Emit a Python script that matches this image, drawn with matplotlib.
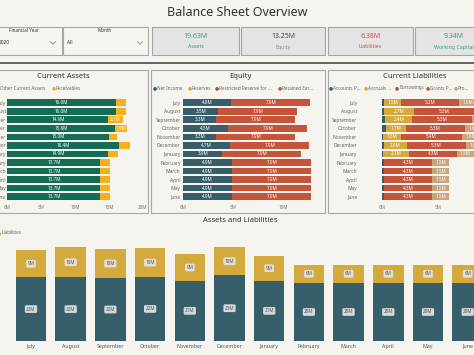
import numpy as np
import matplotlib.pyplot as plt
from matplotlib.patches import Rectangle
from matplotlib.lines import Line2D

plt.rcParams['font.family'] = ['Noto Sans', 'DejaVu Sans']

W, H = 474, 355
BG = '#f6f4ef'

months = ['July', 'August', 'September', 'October', 'November', 'December',
          'January', 'February', 'March', 'April', 'May', 'June']

# Current assets (M)
other_current_assets = [16.0, 16.0, 14.9, 15.8, 15.0, 16.4, 14.9, 13.7, 13.7, 13.7, 13.7, 13.7]
receivables = [1.5, 1.5, 2.1, 1.9, 1.2, 1.7, 1.4, 1.4, 1.4, 1.4, 1.4, 1.4]

# Equity (M)
net_income = [4.8, 3.5, 3.3, 4.5, 3.3, 4.7, 3.9, 4.9, 4.9, 4.9, 4.9, 4.9]
reserves = [0.0] * 12
restricted_reserve = [0.0] * 12
retained_earnings = [7.9] * 12

# Current liabilities (M)
accounts_payable = [0.2, 0.2, 0.3, 0.4, 0.1, 0.2, 0.1, 0.2, 0.2, 0.2, 0.2, 0.2]
accruals = [1.5, 2.7, 2.4, 1.7, 1.6, 2.0, 2.3, 0.0, 0.0, 0.0, 0.0, 0.0]
borrowings = [5.2, 5.3, 5.3, 5.3, 5.4, 5.3, 4.3, 4.3, 4.3, 4.3, 4.3, 4.3]
grants_payable = [0.0] * 12
provisions = [1.6, 1.6, 1.6, 1.6, 1.6, 1.6, 1.5, 1.5, 1.5, 1.5, 1.5, 1.5]

# Assets and liabilities (M)
total_assets = [22.0, 22.0, 21.7, 22.1, 20.8, 22.6, 20.8, 20.0, 20.0, 20.0, 20.0, 20.0]
total_liabilities = [9.2, 10.3, 10.0, 9.8, 9.1, 9.8, 8.6, 6.3, 6.3, 6.3, 6.3, 6.3]

# KPI cards
kpi_values = ['19.63M', '13.25M', '6.38M', '9.34M']
kpi_names = ['Assets', 'Equity', 'Liabilities', 'Working Capital']

TEAL = '#365f6b'
GOLD = '#d5aa3d'
GREEN = '#146c55'
ORANGE = '#f6b01b'
RED = '#c4553a'
BROWN = '#a5513a'
TAN = '#c8a57d'


def fx(px):
    return px / W


def fy(py):
    return 1 - py / H


def add_ax(x0, y0, x1, y1):
    ax = fig.add_axes([x0 / W, 1 - y1 / H, (x1 - x0) / W, (y1 - y0) / H])
    ax.set_facecolor('none')
    for s in ax.spines.values():
        s.set_visible(False)
    return ax


def box(x0, y0, x1, y1, fc='none', ec='#a8a8a8', lw=0.8):
    fig.add_artist(Rectangle((fx(x0), fy(y1)), (x1 - x0) / W, (y1 - y0) / H,
                             transform=fig.transFigure, fc=fc, ec=ec, lw=lw, zorder=0))


def chevron(cx, cy):
    xs = [cx - 2.5, cx, cx + 2.5]
    ys = [cy - 1.2, cy + 1.2, cy - 1.2]
    fig.add_artist(Line2D([fx(x) for x in xs], [fy(y) for y in ys],
                          transform=fig.transFigure, color='#888', lw=0.6))


def legend(items, y):
    for x, label, color in items:
        fig.text(fx(x), fy(y), '●', color=color, fontsize=3.4, ha='center', va='center')
        fig.text(fx(x + 2.3), fy(y), label, color='#666', fontsize=3.3, ha='left', va='center')


def hbar_panel(ax, series, colors, min_label, xmax, xticks, pad):
    y = np.arange(len(months))
    left = np.zeros(len(months))
    for vals, c in zip(series, colors):
        vals = np.array(vals)
        ax.barh(y, vals, left=left, height=0.78, color=c, edgecolor='none')
        for yi, (l, v) in enumerate(zip(left, vals)):
            if v >= min_label:
                ax.text(l + v / 2, yi, f'{v:.1f}M', ha='center', va='center',
                        fontsize=3.3, color='white')
        left += vals
    ax.set_xlim(0, xmax)
    ax.set_ylim(len(months) - 0.4, -0.6)
    ax.set_yticks(y)
    ax.set_yticklabels(months, fontsize=3.5, color='#666')
    ax.set_xticks(xticks)
    ax.set_xticklabels([f'{t}M' for t in xticks], fontsize=3.3, color='#777')
    ax.tick_params(axis='y', length=0, pad=pad)
    ax.tick_params(axis='x', length=0, pad=2.5)


fig = plt.figure(figsize=(W / 100, H / 100), dpi=100, facecolor=BG)

# header
fig.text(fx(237), fy(12), 'Balance Sheet Overview', fontsize=9, color='#333',
         ha='center', va='center')

box(-2, 27, 62, 55)
box(63, 27, 148, 55)
fig.text(fx(24), fy(31), 'Financial Year', fontsize=3.3, weight='bold', color='#333',
         ha='center', va='center')
fig.text(fx(10), fy(43), '2020', fontsize=3.5, color='#333', ha='right', va='center')
chevron(53, 43)
fig.text(fx(105), fy(31), 'Month', fontsize=3.3, weight='bold', color='#333',
         ha='center', va='center')
fig.text(fx(67), fy(43), 'All', fontsize=3.5, color='#333', ha='left', va='center')
chevron(140, 43)

cards = [(152, 239), (241, 325), (328, 413), (415, 478)]
val_colors = ['#3f9a85', '#444444', '#e0474c', '#3f9a85']
name_colors = ['#3f9a85', '#888888', '#e0474c', '#3f9a85']
for (x0, x1), v, n, vc, nc in zip(cards, kpi_values, kpi_names, val_colors, name_colors):
    box(x0, 27, x1, 55, fc='#e4e4e4', ec='#a5a5a5')
    cx = (x0 + x1) / 2 if x1 < 474 else 454
    fig.text(fx(cx), fy(37), v, fontsize=5, color=vc, ha='center', va='center')
    fig.text(fx(cx), fy(47), n, fontsize=3.8, color=nc, ha='center', va='center')

fig.add_artist(Line2D([0, 1], [fy(62.5), fy(62.5)], transform=fig.transFigure,
                      color='#3a3a3a', lw=1.1))

# panels
box(-2, 70, 148, 213)
box(151, 70, 325, 213)
box(328, 70, 478, 213)
fig.text(fx(63), fy(77), 'Current Assets', fontsize=5.5, color='#333', ha='center', va='center')
fig.text(fx(240), fy(77), 'Equity', fontsize=5.5, color='#333', ha='center', va='center')
fig.text(fx(415), fy(77), 'Current Liabilities', fontsize=5.5, color='#333',
         ha='center', va='center')

legend([(-2, 'Other Current Assets', GREEN), (53.5, 'Receivables', ORANGE)], 88)
legend([(155, 'Net Income', TEAL), (189.5, 'Reserves', GOLD),
        (217, 'Restricted Reserve for ...', BROWN),
        (280, 'Retained Ear...', RED)], 88)
legend([(331, 'Accounts P...', TEAL), (366, 'Accruals ...', GOLD),
        (397, 'Borrowings', BROWN), (427.5, 'Grants P...', RED),
        (455.5, 'Pro...', TAN)], 88)

ax1 = add_ax(7.3, 97.6, 143, 201.8)
hbar_panel(ax1, [other_current_assets, receivables], [GREEN, ORANGE], 1.85,
           20, [0, 5, 10, 15, 20], 1)

ax2 = add_ax(183.3, 97.6, 322, 201.8)
hbar_panel(ax2, [net_income, reserves, restricted_reserve, retained_earnings],
           [TEAL, GOLD, BROWN, RED], 1.0, (322 - 183.3) / 10.0, [0, 5, 10], 2)

ax3 = add_ax(382, 97.6, 474, 201.8)
hbar_panel(ax3, [accounts_payable, accruals, borrowings, grants_payable, provisions],
           [TEAL, GOLD, RED, RED, TAN], 1.0, (474 - 382) / 11.2, [0, 5], 18)

# bottom chart
fig.text(fx(240), fy(221), 'Assets and Liabilities', fontsize=5.5, color='#333',
         ha='center', va='center')
legend([(-1, 'Liabilities', GOLD)], 233)

ax4 = add_ax(0, 238, 474, 341)
x = np.arange(len(months))
ax4.bar(x, total_assets, width=0.77, color=TEAL)
ax4.bar(x, total_liabilities, bottom=total_assets, width=0.77, color=GOLD)
lab = dict(boxstyle='round,pad=0.3', fc='#e4e4e2', ec='none', alpha=0.92)
for xi, a, l in zip(x, total_assets, total_liabilities):
    ax4.text(xi, a / 2, f'{a:.0f}M', ha='center', va='center', fontsize=3.3,
             color='#555', bbox=lab)
    ax4.text(xi, a + l / 2, f'{l:.0f}M', ha='center', va='center', fontsize=3.3,
             color='#555', bbox=lab)
ax4.set_xlim(-31 / 39.7, (474 - 31) / 39.7)
ax4.set_ylim(0, 35.5)
ax4.set_yticks([])
ax4.set_xticks(x)
ax4.set_xticklabels(months, fontsize=3.8, color='#555')
ax4.tick_params(axis='x', length=0, pad=2)

fig.savefig('out.png', dpi=100, facecolor=BG)
